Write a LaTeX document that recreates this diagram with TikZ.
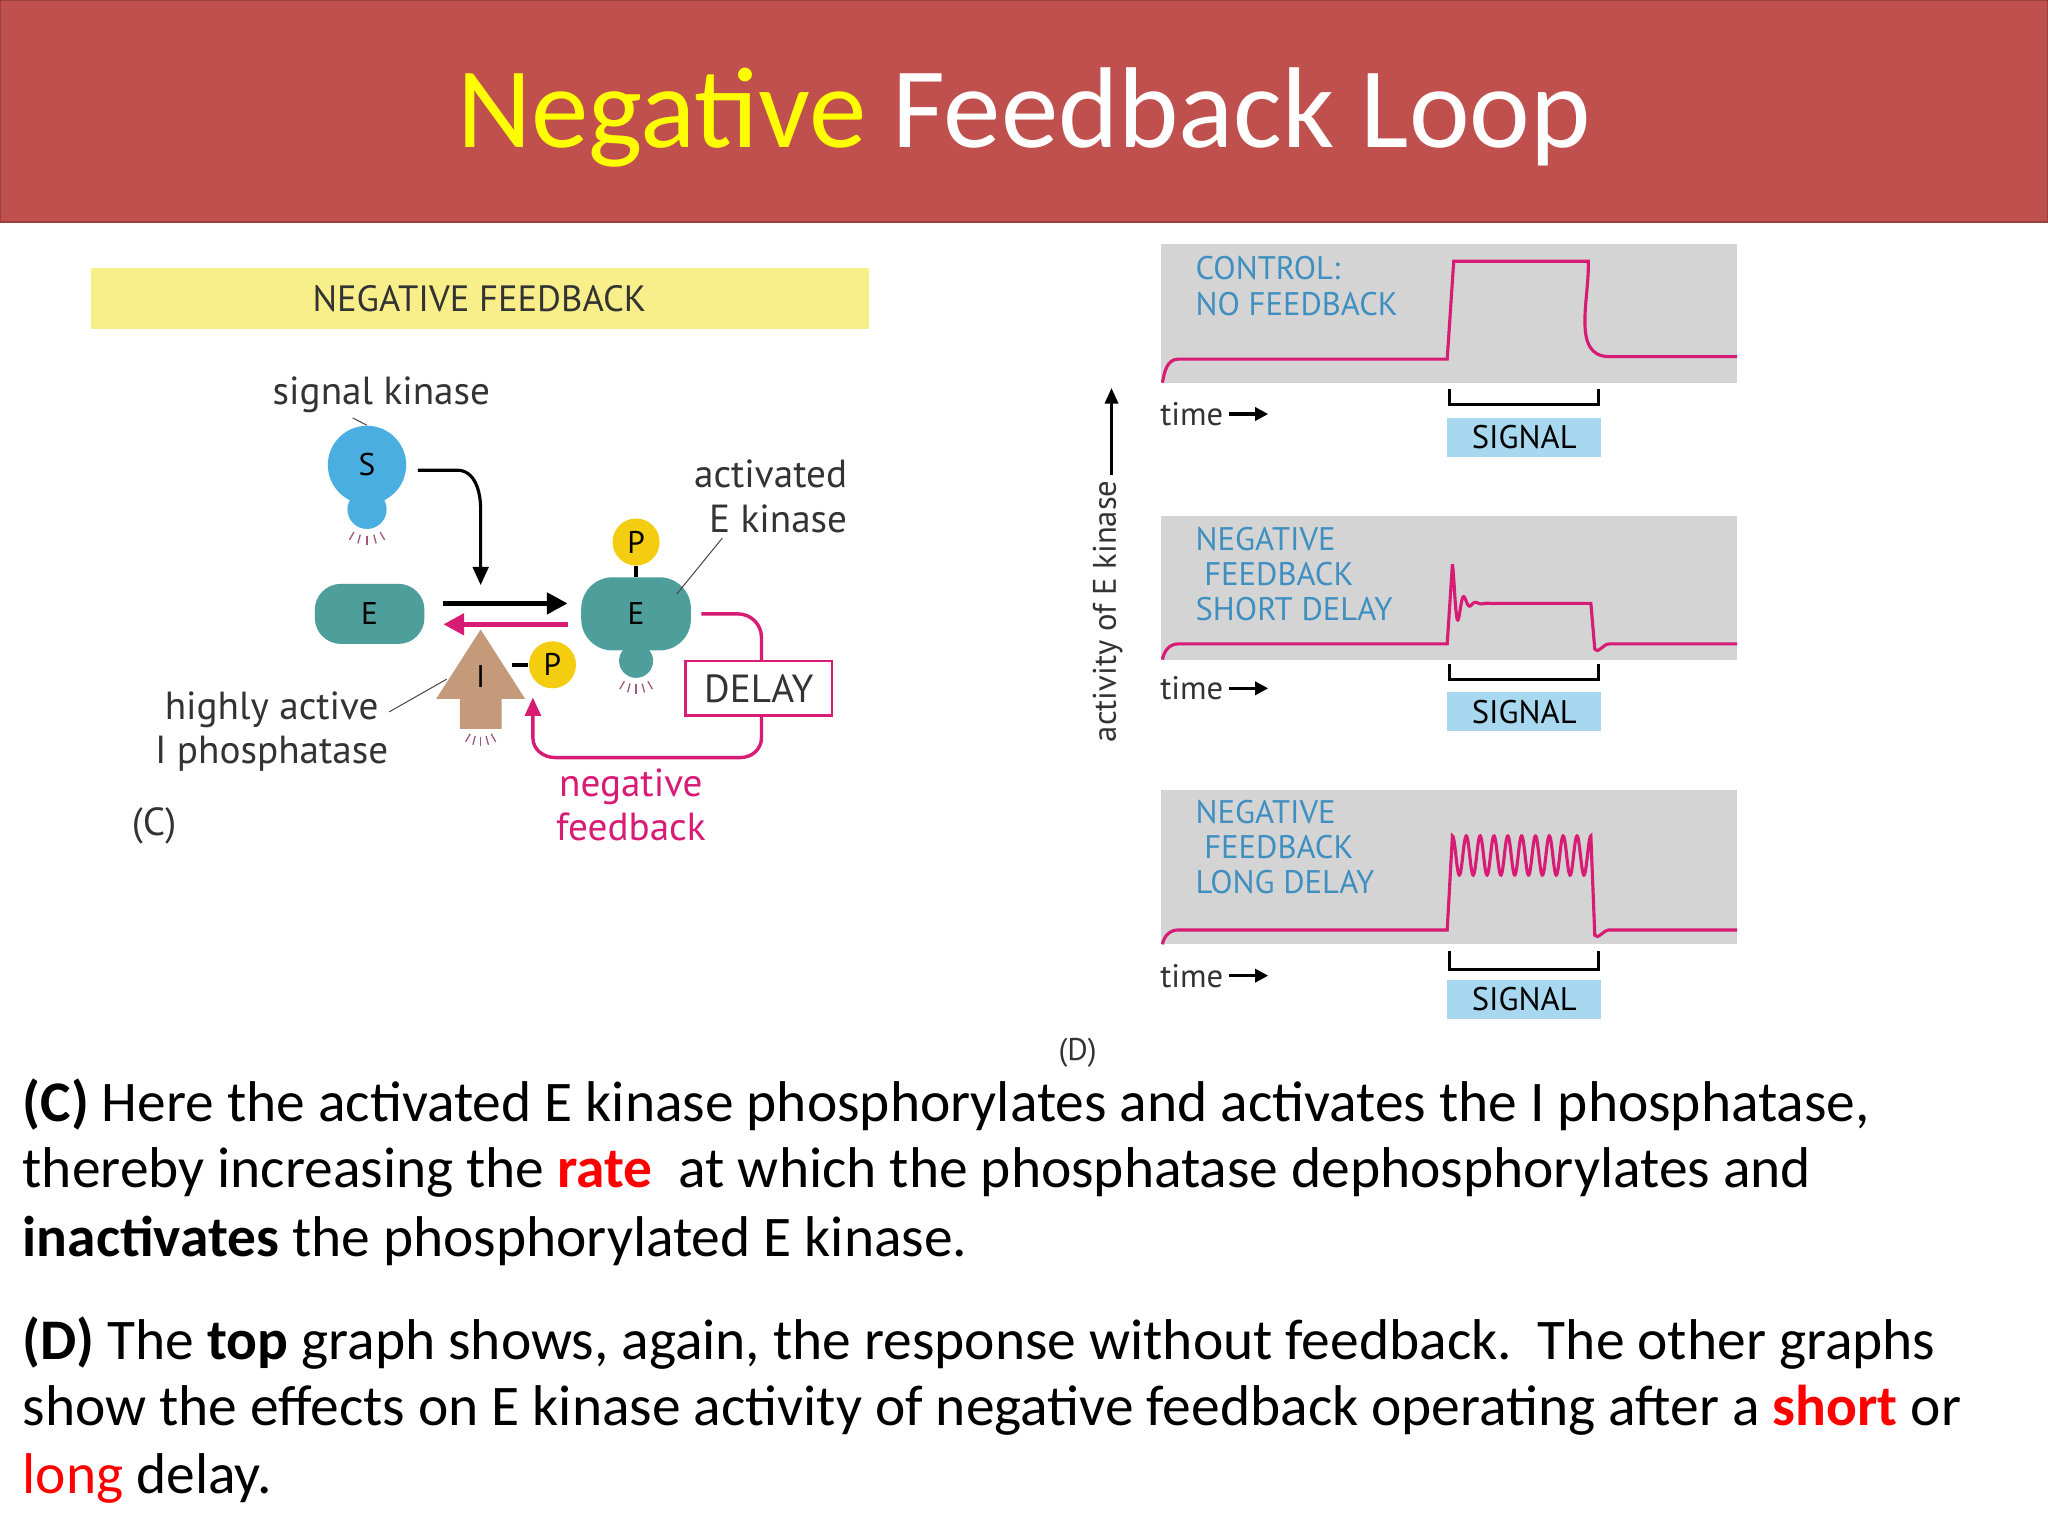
\documentclass[tikz,border=0pt]{standalone}
\usepackage{fontspec}
\setmainfont{Carlito}
\newfontfamily\lab{PT Sans}
\definecolor{titlered}{HTML}{C0504D}
\definecolor{titleyel}{HTML}{FFFF00}
\definecolor{band}{HTML}{F8EE8A}
\definecolor{sblue}{HTML}{4AAEE0}
\definecolor{eteal}{HTML}{4E9E9B}
\definecolor{mag}{HTML}{D81B74}
\definecolor{pyel}{HTML}{F5CD10}
\definecolor{ibrown}{HTML}{C49A7A}
\definecolor{pgray}{HTML}{D4D4D4}
\definecolor{ltxt}{HTML}{3F8FC0}
\definecolor{sigbox}{HTML}{A8D8F0}
\definecolor{kred}{HTML}{FF0000}
\usetikzlibrary{arrows.meta,calc}
\tikzset{
 lbl/.style={font=\lab\fontsize{15pt}{17pt}\selectfont, text=black!80, align=center, inner sep=0pt},
 plbl/.style={font=\lab\fontsize{12.5pt}{13.5pt}\selectfont, text=ltxt, align=left, anchor=north west, inner sep=0pt},
 sig/.style={fill=sigbox, font=\lab\fontsize{12.5pt}{14pt}\selectfont, minimum width=59pt, minimum height=15pt, inner sep=0pt},
 body/.style={font=\fontsize{22pt}{26pt}\selectfont, anchor=west, inner sep=0pt},
 trace/.style={mag, line width=1.2pt},
 pball/.style={circle, fill=pyel, minimum size=18pt, inner sep=0pt, font=\lab\fontsize{12pt}{12pt}\selectfont},
 rays/.style={mag!40!gray, line width=0.5pt},
 bar/.style={line width=1.2pt},
 enode/.style={rectangle, rounded corners=#1, fill=eteal, inner sep=0pt, font=\lab\fontsize{12pt}{12pt}\selectfont}
}
\begin{document}
\begin{tikzpicture}[x=0.5pt,y=-0.5pt]
\useasboundingbox (0,0) rectangle (1568,1176);
\fill[white] (0,0) rectangle (1568,1176);
% title
\draw[fill=titlered, draw=titlered!80!black, line width=1pt] (0,0) rectangle (1568,170);
\node[font=\fontsize{44pt}{48pt}\selectfont, inner sep=0pt] (title) at (784,90) {\textcolor{titleyel}{Negative} \textcolor{white}{Feedback Loop}};
% panel C
\fill[band] (70,205) rectangle (665,252);
\node[lbl, font=\lab\fontsize{14pt}{16pt}\selectfont] (nf) at (367,229) {NEGATIVE FEEDBACK};
\node[lbl] (sk) at (292,302) {signal kinase};
% S molecule
\fill[sblue] (281,390) circle (15);
\node[circle, fill=sblue, minimum size=30pt, inner sep=0pt, font=\lab\fontsize{12pt}{12pt}\selectfont] (S) at (281,356) {S};
\draw[black!70] (270,320) -- (S.north);
\foreach \a in {-30,-15,0,15,30} \draw[rays] ($(281,390)+(\a+90:20)$) -- ($(281,390)+(\a+90:27)$);
% E inactive
\node[enode=10pt, minimum width=42pt, minimum height=23pt] (E1) at (283,470) {E};
% E active
\fill[eteal] (487,506) circle (13);
\node[enode=12pt, minimum width=42pt, minimum height=28pt] (E2) at (487,470) {E};
\node[pball] (P1) at (487,415) {P};
\draw[line width=1.5pt] (P1.south) -- (E2.north);
\foreach \a in {-30,-15,0,15,30} \draw[rays] ($(487,506)+(\a+90:18)$) -- ($(487,506)+(\a+90:25)$);
\node[lbl, align=right] (ek) at (590,380) {activated\\E kinase};
\draw[black!70] (553,412) -- (518,455);
% arrows
\coordinate (sa) at (320,360);
\coordinate (sb) at (368,448);
\draw[-{Triangle[length=7pt,width=6pt]}, bar] (sa) -- (350,360) to[out=0,in=90] (368,390) -- (sb);
\draw[-{Triangle[length=8pt,width=8pt]}, line width=2pt] ([xshift=7pt,yshift=4pt]E1.east) -- ([xshift=-5pt,yshift=4pt]E2.west);
\draw[-{Triangle[length=8pt,width=8pt]}, line width=2pt, mag] ([xshift=-5pt,yshift=-4pt]E2.west) -- ([xshift=7pt,yshift=-4pt]E1.east);
% I phosphatase
\fill[ibrown] (368,482) -- (402,535) -- (384,535) -- (384,558) -- (352,558) -- (352,535) -- (334,535) -- cycle;
\node[font=\lab\fontsize{12pt}{12pt}\selectfont, inner sep=0pt] (I) at (368,518) {I};
\node[pball] (P2) at (423,509) {P};
\draw[line width=1.5pt] (392,509) -- (P2.west);
\foreach \a in {-30,-15,0,15,30} \draw[rays] ($(368,548)+(\a+90:16)$) -- ($(368,548)+(\a+90:23)$);
\node[lbl] (ha) at (208,560) {highly active\\I phosphatase};
\draw[black!70] (298,545) -- (342,520);
% DELAY and feedback
\node[draw=mag, line width=1pt, minimum width=56pt, minimum height=21pt, inner sep=0pt, lbl] (D) at (581,527) {DELAY};
\draw[mag, line width=1.3pt] (537,470) -- (565,470) to[out=0,in=90] (583,488) -- (583,506);
\draw[mag, line width=1.3pt, -{Triangle[length=7pt,width=6pt]}] (583,548) -- (583,565) to[out=-90,in=0] (567,580) -- (425,580) to[out=180,in=-90] (408,565) -- (408,534);
\node[lbl, text=mag] (nfb) at (483,616) {negative\\feedback};
\node[lbl] (C) at (118,632) {(C)};
% panel D
\node[lbl, rotate=90, font=\lab\fontsize{12.5pt}{14pt}\selectfont] (ax) at (848,468) {activity of E kinase};
\draw[-{Triangle[length=6pt,width=5pt]}, bar] ($(ax.east)+(3,-4)$) -- (851,297);
\node[lbl, font=\lab\fontsize{12pt}{14pt}\selectfont] (Dl) at (825,806) {(D)};
% graph 1
\fill[pgray] (889,187) rectangle (1330,293);
\node[plbl] (g1) at (915,196) {CONTROL:\\NO FEEDBACK};
\draw[trace] (890,293) to[out=80,in=180] (902,275) -- (1108,275) -- (1113,200) -- (1216,200) to[out=-88,in=180] (1232,273) -- (1330,273);
\draw[bar] (1110,298) -- (1110,310) -- (1224,310) -- (1224,298);
\node[sig] (s1) at (1167,335) {SIGNAL};
\node[lbl, anchor=west, font=\lab\fontsize{12.5pt}{14pt}\selectfont] (t1) at (888,317) {time};
\draw[-{Triangle[length=5pt,width=5pt]}, bar] ($(t1.east)+(4,0)$) -- ++(30,0);
% graph 2
\fill[pgray] (889,395) rectangle (1330,505);
\node[plbl] (g2) at (915,403) {NEGATIVE\\\ FEEDBACK\\SHORT DELAY};
\draw[trace] (890,505) to[out=80,in=180] (902,493) -- (1108,493) -- (1112,432)
  -- plot[domain=0:38, samples=120] (1112+\x, {462-30*exp(-\x/5)*cos(40*\x)}) -- (1218,462) -- (1221,497) to[out=-60,in=180] (1232,493) -- (1330,493);
\draw[bar] (1110,508) -- (1110,520) -- (1224,520) -- (1224,508);
\node[sig] (s2) at (1167,545) {SIGNAL};
\node[lbl, anchor=west, font=\lab\fontsize{12.5pt}{14pt}\selectfont] (t2) at (888,527) {time};
\draw[-{Triangle[length=5pt,width=5pt]}, bar] ($(t2.east)+(4,0)$) -- ++(30,0);
% graph 3
\fill[pgray] (889,605) rectangle (1330,723);
\node[plbl] (g3) at (915,612) {NEGATIVE\\\ FEEDBACK\\LONG DELAY};
\draw[trace] (890,723) to[out=80,in=180] (902,712) -- (1108,712) -- (1112,640)
  -- plot[domain=0:106, samples=300] (1112+\x, {655-15*cos(33.96*\x)}) -- (1221,716) to[out=-60,in=180] (1232,712) -- (1330,712);
\draw[bar] (1110,728) -- (1110,742) -- (1224,742) -- (1224,728);
\node[sig] (s3) at (1167,765) {SIGNAL};
\node[lbl, anchor=west, font=\lab\fontsize{12.5pt}{14pt}\selectfont] (t3) at (888,747) {time};
\draw[-{Triangle[length=5pt,width=5pt]}, bar] ($(t3.east)+(4,0)$) -- ++(30,0);
% body text
\node[body] (b1) at (17,846) {\textbf{(C)} Here the activated E kinase phosphorylates and activates the I phosphatase,};
\node[body] (b2) at (17,898) {thereby increasing the \textcolor{kred}{\textbf{rate}}\ \ at which the phosphatase dephosphorylates and};
\node[body] (b3) at (17,950) {\textbf{inactivates} the phosphorylated E kinase.};
\node[body] (b4) at (17,1028) {\textbf{(D)} The \textbf{top} graph shows, again, the response without feedback.\ \ The other graphs};
\node[body] (b5) at (17,1080) {show the effects on E kinase activity of negative feedback operating after a \textcolor{kred}{\textbf{short}} or};
\node[body] (b6) at (17,1132) {\textcolor{kred}{long} delay.};
\end{tikzpicture}
\end{document}
